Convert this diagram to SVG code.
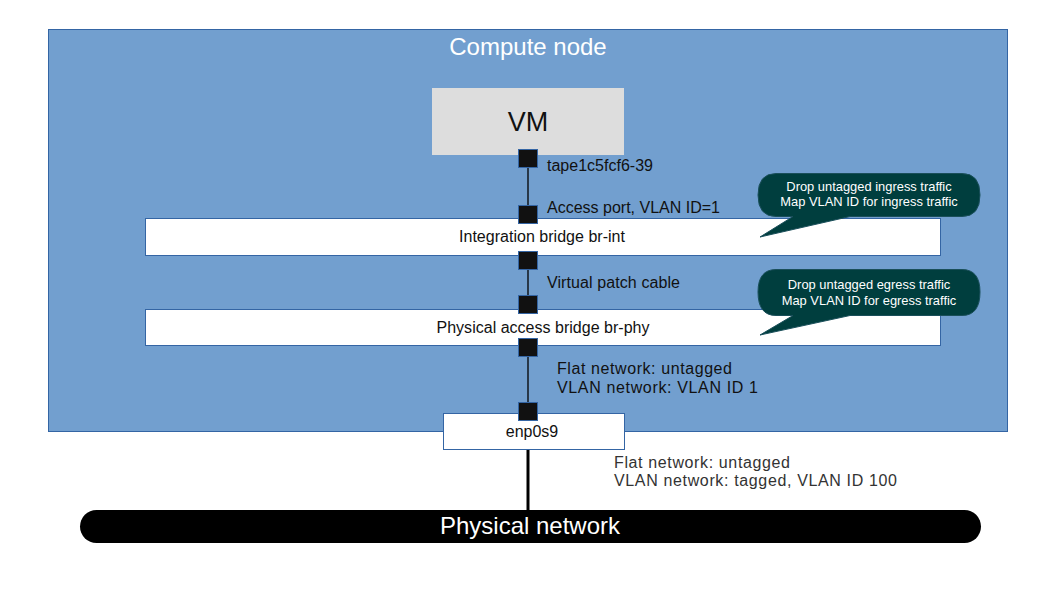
<svg xmlns="http://www.w3.org/2000/svg" width="1058" height="595" viewBox="0 0 1058 595">
<style>
text{font-family:"Liberation Sans",Arial,sans-serif}
.port{fill:#111;stroke:#3465a4;stroke-width:1}
.bridge{fill:#fff;stroke:#3465a4;stroke-width:1}
.lbl{font-size:16px;fill:#111}
.call{fill:#003e3e;stroke:#1a4f5a;stroke-width:1}
.ct{font-size:12.9px;fill:#fff;text-anchor:middle}
</style>
<rect width="1058" height="595" fill="#fff"/>
<g id="compute-node">
<rect x="48.5" y="29.5" width="959" height="402" fill="#729fcf" stroke="#3465a4"/>
<text x="528" y="55" font-size="24" fill="#fff" text-anchor="middle">Compute node</text>
</g>
<g id="connectors">
<line x1="528" y1="158" x2="528" y2="414" stroke="#000" stroke-width="1.3"/>
<line x1="528" y1="449" x2="528" y2="511" stroke="#000" stroke-width="3"/>
</g>
<g id="vm">
<rect x="432" y="88" width="192" height="67" fill="#dddddd"/>
<text x="528" y="131" font-size="27" fill="#111" text-anchor="middle">VM</text>
</g>
<g id="br-int">
<rect class="bridge" x="145.5" y="218.5" width="795" height="37"/>
<text x="542" y="242" font-size="16" fill="#111" text-anchor="middle" textLength="166">Integration bridge br-int</text>
</g>
<g id="br-phy">
<rect class="bridge" x="145.5" y="309.5" width="795" height="36"/>
<text x="543" y="333" font-size="16" fill="#111" text-anchor="middle" textLength="213">Physical access bridge br-phy</text>
</g>
<g id="enp0s9">
<rect class="bridge" x="443.5" y="413.5" width="181" height="36"/>
<text x="532" y="437" font-size="16" fill="#111" text-anchor="middle">enp0s9</text>
</g>
<g id="ports">
<rect class="port" x="518.5" y="149.5" width="19" height="18"/>
<rect class="port" x="518.5" y="205.5" width="19" height="18"/>
<rect class="port" x="518.5" y="251.5" width="19" height="18"/>
<rect class="port" x="518.5" y="295.5" width="19" height="18"/>
<rect class="port" x="518.5" y="338.5" width="19" height="18"/>
<rect class="port" x="518.5" y="402.5" width="19" height="18"/>
</g>
<g id="labels">
<text class="lbl" x="547" y="171" textLength="106">tape1c5fcf6-39</text>
<text class="lbl" x="547" y="213" textLength="173">Access port, VLAN ID=1</text>
<text class="lbl" x="547" y="288" textLength="133">Virtual patch cable</text>
<text class="lbl" x="557" y="374" font-size="17" textLength="175">Flat network: untagged</text>
<text class="lbl" x="557" y="393" font-size="17" textLength="201">VLAN network: VLAN ID 1</text>
<text x="614" y="468" font-size="16" fill="#333" textLength="176">Flat network: untagged</text>
<text x="614" y="486" font-size="16" fill="#333" textLength="283">VLAN network: tagged, VLAN ID 100</text>
</g>
<g id="callout-ingress">
<path class="call" d="M776 173.5 H962 Q980 173.5 980 195 Q980 216.5 962 216.5 H850 L760 237 L793 216.5 H776 Q758 216.5 758 195 Q758 173.5 776 173.5 Z"/>
<text class="ct" x="869" y="191">Drop untagged ingress traffic</text>
<text class="ct" x="869" y="206">Map VLAN ID for ingress traffic</text>
</g>
<g id="callout-egress">
<path class="call" d="M776 269.5 H962 Q980 269.5 980 292 Q980 315.5 962 315.5 H850 L760 335 L793 315.5 H776 Q758 315.5 758 292 Q758 269.5 776 269.5 Z"/>
<text class="ct" x="869" y="289">Drop untagged egress traffic</text>
<text class="ct" x="869" y="305">Map VLAN ID for egress traffic</text>
</g>
<g id="physical-network">
<rect x="80" y="510" width="901" height="33" rx="16.5" fill="#000"/>
<text x="530" y="534" font-size="24" fill="#fff" text-anchor="middle">Physical network</text>
</g>
</svg>
